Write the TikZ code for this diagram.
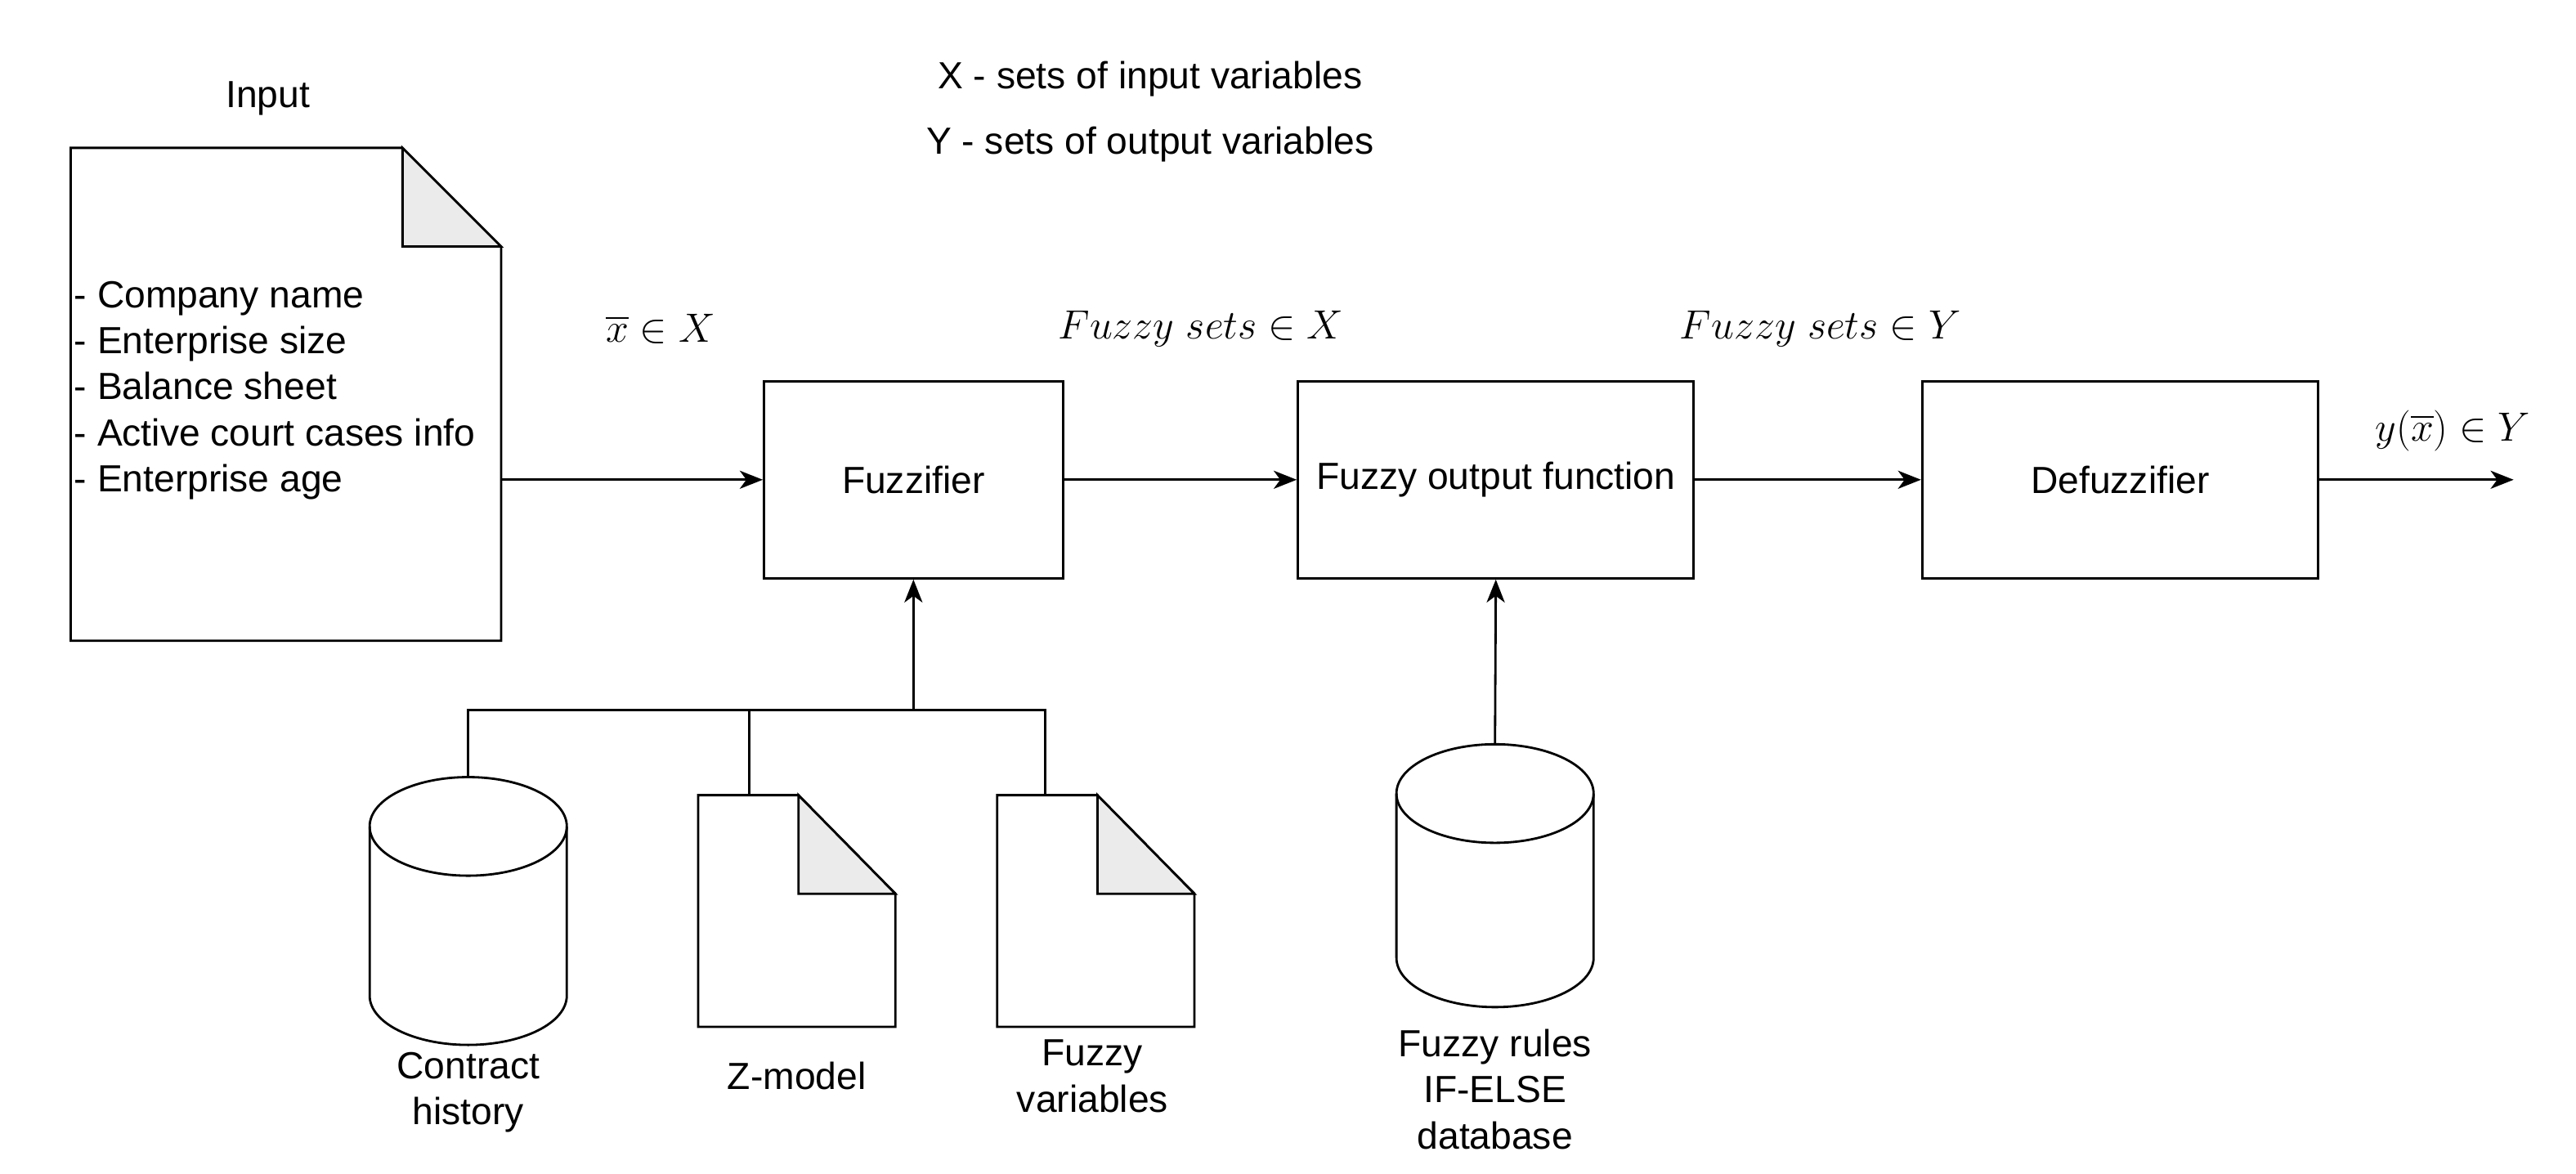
\documentclass[tikz,border=0pt]{standalone}
\usepackage{fontspec}
\usepackage{amsmath}
\setmainfont{Liberation Sans}
\usetikzlibrary{arrows.meta}
\begin{document}
\begin{tikzpicture}[x=1pt,y=-1pt,
  every node/.style={font=\fontsize{23}{28}\selectfont},
  ln/.style={line width=1.4pt},
  arr/.style={ln,-{Stealth[length=14pt,width=11pt,inset=4pt]}},
  blk/.style={draw,ln,minimum width=#1,minimum height=120pt,inner sep=0pt},
  fold/.style={ln,fill=black!8,line join=miter},
  mth/.style={font=\fontsize{26}{30}\selectfont}]
\useasboundingbox (0,0) rectangle (1568,714.5);
% header
\node (hx) at (700,48) {X - sets of input variables};
\node (hy) at (700,88) {Y - sets of output variables};
\node (inlbl) at (163,60) {Input};
% input document
\draw[ln,line join=miter] (43,90) -- (245,90) -- (305,150) -- (305,390) -- (43,390) -- cycle;
\draw[fold] (245,90) -- (245,150) -- (305,150) -- cycle;
\coordinate (doc) at (305,292);
\node[align=left,anchor=north west,inner sep=0pt] (list) at (45,171)
 {- Company name\\- Enterprise size\\- Balance sheet\\- Active court cases info\\- Enterprise age};
% blocks
\node[blk=182pt] (fz) at (556,292) {Fuzzifier};
\node[blk=241pt] (fo) at (910.5,292) {Fuzzy output function};
\node[blk=241pt] (df) at (1290.5,292) {Defuzzifier};
\coordinate (out) at (1530,292);
\draw[arr] (doc) -- (fz.west);
\draw[arr] (fz.east) -- (fo.west);
\draw[arr] (fo.east) -- (df.west);
\draw[arr] (df.east) -- (out);
% labels
\node[mth] (l1) at (402,200) {$\overline{x}\in X$};
\node[mth] (l2) at (731,200) {$Fuzzy\ sets\in X$};
\node[mth] (l3) at (1108,200) {$Fuzzy\ sets\in Y$};
\node[mth] (l4) at (1493,262) {$y(\overline{x})\in Y$};
% contract history cylinder
\coordinate (c1) at (285,473);
\draw[ln] (225,503) -- (225,606) arc[start angle=180,end angle=0,x radius=60,y radius=30] -- (345,503);
\draw[ln] (285,503) ellipse[x radius=60,y radius=30];
% z-model doc
\coordinate (z1) at (456,484);
\draw[ln,line join=miter] (425,484) -- (486,484) -- (545,544) -- (545,625) -- (425,625) -- cycle;
\draw[fold] (486,484) -- (486,544) -- (545,544) -- cycle;
% fuzzy variables doc
\coordinate (v1) at (636,484);
\draw[ln,line join=miter] (607,484) -- (668,484) -- (727,544) -- (727,625) -- (607,625) -- cycle;
\draw[fold] (668,484) -- (668,544) -- (727,544) -- cycle;
% rules cylinder
\coordinate (r1) at (910,453);
\draw[ln] (850,483) -- (850,583) arc[start angle=180,end angle=0,x radius=60,y radius=30] -- (970,483);
\draw[ln] (910,483) ellipse[x radius=60,y radius=30];
% bus
\coordinate (bus) at (556,432);
\draw[ln] (c1) |- (bus) -| (v1);
\draw[ln] (z1) -- (456,432);
\draw[arr] (bus) -- (fz.south);
\draw[arr] (r1) -- (fo.south);
% bottom labels
\node[align=center] (t1) at (285,665) {Contract\\history};
\node (t2) at (485,655) {Z-model};
\node[align=center] (t3) at (665,655) {Fuzzy\\variables};
\node[align=center] (t4) at (910,663) {Fuzzy rules\\IF-ELSE\\database};
\end{tikzpicture}
\end{document}
